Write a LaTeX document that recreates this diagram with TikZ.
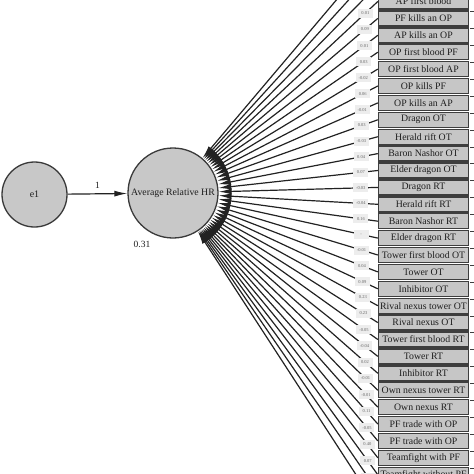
\documentclass[tikz,border=0pt]{standalone}
\usepackage{fontspec}
\setmainfont{Liberation Serif}
\usetikzlibrary{arrows.meta,calc}
\definecolor{boxfill}{HTML}{C6C6C6}
\definecolor{boxline}{HTML}{3E3E3E}
\definecolor{circfill}{HTML}{C8C8C8}
\definecolor{circline}{HTML}{3A3A3A}
\definecolor{linecol}{HTML}{222222}
\definecolor{coeffill}{HTML}{EDEDED}
\definecolor{coeftxt}{HTML}{666666}
\definecolor{txt}{HTML}{1E1E1E}
\begin{document}
\begin{tikzpicture}[x=1pt,y=-1pt,
  varbox/.style={draw=boxline, fill=boxfill, line width=1.4pt, minimum width=90pt, minimum height=15pt, inner sep=0pt, font=\fontsize{9.8}{9.8}\selectfont, text=txt},
  coef/.style={fill=coeffill, inner sep=0pt, minimum width=15pt, minimum height=9pt, font=\fontsize{4.5}{4.5}\selectfont, text=coeftxt},
  conn/.style={draw=linecol, line width=1.2pt, -{Latex[length=13pt,width=6pt]}},
  latent/.style={circle, draw=circline, fill=circfill, line width=1.3pt, inner sep=0pt, text=txt},
  stub/.style={draw=boxline, line width=0.8pt}
]
\useasboundingbox (0,0) rectangle (474,474);
\clip (0,0) rectangle (474,474);

\node[latent, minimum size=90pt, font=\fontsize{9.8}{10}\selectfont] (hr) at (173,193) {Average Relative HR};
\node[latent, minimum size=65pt, font=\fontsize{10}{10}\selectfont] (e1) at (34.5,194.5) {e1};
\draw[conn] (e1) -- node[above=1pt, font=\fontsize{9.5}{9.5}\selectfont, text=txt] {1} (hr);
\node[font=\fontsize{9.5}{9.5}\selectfont, text=txt] (r2) at (142,244) {0.31};

% extra rows beyond the visible area
\foreach \k in {-3,-2,-1,29,30} {
  \pgfmathsetmacro\yy{1.5+16.9*\k}
  \coordinate (x\k) at (378,\yy);
  \draw[conn] (x\k) -- (hr);
}
\node[coef] (c29) at ($(x29)!17pt!(hr.center)$) {0.15};

% observed variables
\foreach \t [count=\i from 0] in {AP first blood, PF kills an OP, AP kills an OP, OP first blood PF, OP first blood AP, OP kills PF, OP kills an AP, Dragon OT, Herald rift OT, Baron Nashor OT, Elder dragon OT, Dragon RT, Herald rift RT, Baron Nashor RT, Elder dragon RT, Tower first blood OT, Tower OT, Inhibitor OT, Rival nexus tower OT, Rival nexus OT, Tower first blood RT, Tower RT, Inhibitor RT, Own nexus tower RT, Own nexus RT, PF trade with OP, PF trade with OP, Teamfight with PF, Teamfight without PF} {
  \pgfmathsetmacro\yy{1.5+16.9*\i}
  \node[varbox] (b\i) at (423.5,\yy) {\t};
  \draw[stub] (b\i.north east) ++(1,1.5) -- ++(6,0);
}

% regression paths with coefficients
\foreach \c [count=\i from 0] in {0.01, 0.09, 0.01, 0.03, -0.02, 0.06, -0.01, 0.03, -0.03, 0.04, 0.07, -0.03, -0.04, 0.16, -, -0.01, 0.04, 0.09, 0.23, 0.23, -0.05, -0.04, 0.02, -0.01, -0.01, 0.11, -0.05, 0.40, 0.07} {
  \draw[conn] (b\i.west) -- (hr);
  \node[coef] (c\i) at ($(b\i.west)!17pt!(hr.center)$) {\c};
}
\end{tikzpicture}
\end{document}
